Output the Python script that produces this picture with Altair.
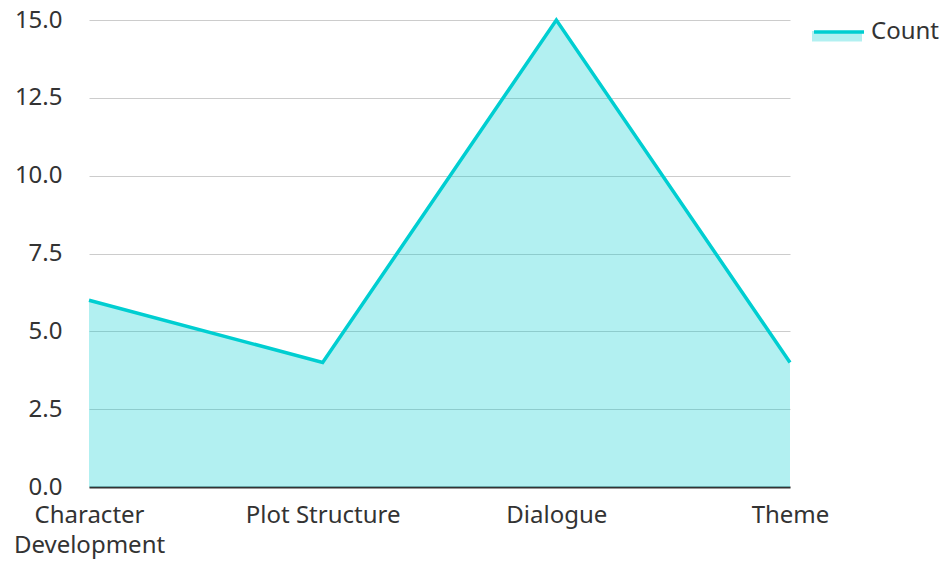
import altair as alt
import pandas as pd

categories = ["Character Development", "Plot Structure", "Dialogue", "Theme"]
counts = [6, 4, 15, 4]
series_name = "Count"

df = pd.DataFrame({"category": categories, "value": counts, "series": [series_name] * len(categories)})

LINE = "#00CED1"
FONT = "Noto Sans"
TEXT = "#333333"

x_enc = alt.X(
    "category:N",
    sort=categories,
    scale=alt.Scale(type="point", padding=0),
    axis=alt.Axis(
        title=None, labelAngle=0, ticks=False, tickSize=0, grid=False,
        domainColor=TEXT, domainWidth=2, labelFontSize=24, labelFont=FONT,
        labelColor=TEXT, labelPadding=16, labelLineHeight=30,
        labelExpr="length(datum.label) > 15 ? split(datum.label, ' ') : datum.label",
    ),
)
y_enc = alt.Y(
    "value:Q",
    scale=alt.Scale(domain=[0, 15], nice=False),
    axis=alt.Axis(
        title=None, values=[0, 2.5, 5, 7.5, 10, 12.5, 15], format=".1f",
        domain=False, ticks=False, tickSize=0, grid=True, gridColor="#cccccc",
        gridWidth=1, labelFontSize=24, labelFont=FONT, labelColor=TEXT,
        labelPadding=27,
    ),
)

legend_common = dict(
    title=None, orient="none", legendX=723, legendY=-15, padding=0,
    symbolSize=2500, labelFontSize=24, labelFont=FONT, labelOffset=5,
)

area = alt.Chart(df).transform_calculate(series2="datum.series").mark_area(
    fillOpacity=0.3, line=False
).encode(
    x=x_enc,
    y=y_enc,
    fill=alt.Fill(
        "series2:N",
        scale=alt.Scale(range=[LINE]),
        legend=alt.Legend(
            symbolType="M-1,0.04H1V0.46H-1Z", symbolOpacity=0.3,
            symbolStrokeWidth=0, labelOpacity=0, **legend_common,
        ),
    ),
)

line = alt.Chart(df).mark_line(strokeWidth=3.5, color=LINE).encode(
    x=x_enc,
    y=y_enc,
    stroke=alt.Stroke(
        "series:N",
        scale=alt.Scale(range=[LINE]),
        legend=alt.Legend(
            symbolType="stroke", symbolStrokeWidth=3.5, labelColor=TEXT,
            **legend_common,
        ),
    ),
)

chart = alt.layer(area, line).resolve_scale(fill="independent", stroke="independent").properties(
    width=701,
    height=467,
    autosize=alt.AutoSizeParams(type="none"),
    padding={"left": 81, "top": 12, "right": 150, "bottom": 72},
).configure(font=FONT, view=alt.ViewConfig(stroke=None))

chart.save("out.html", embed_options={"renderer": "svg", "actions": False})
